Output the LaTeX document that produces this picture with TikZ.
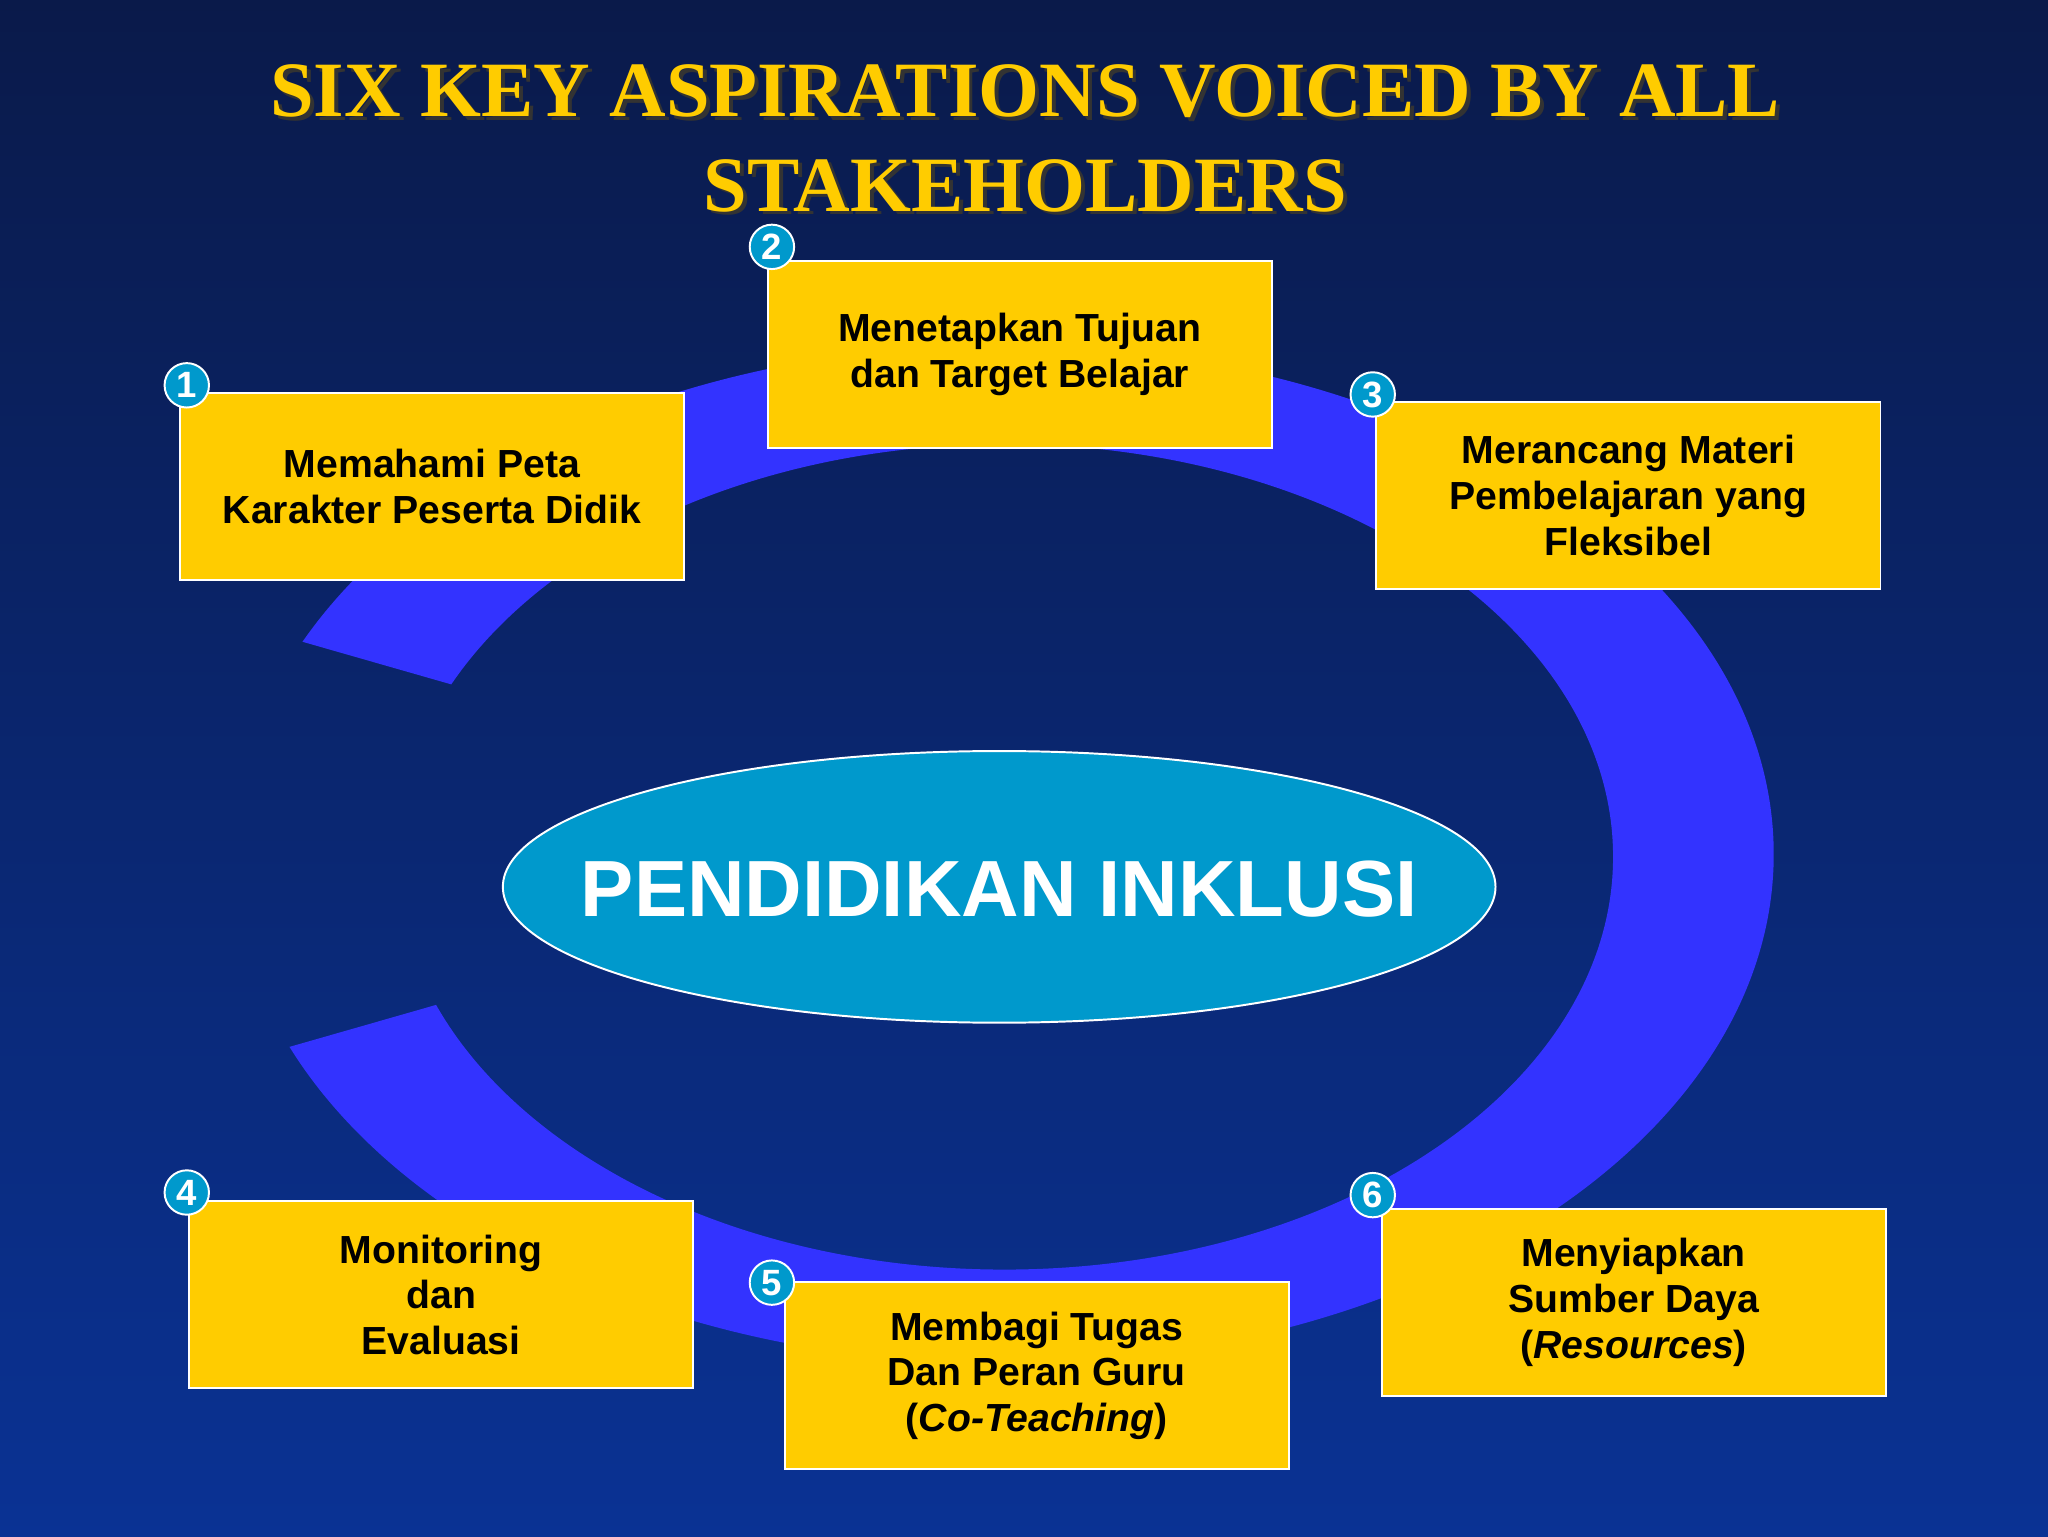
\documentclass[tikz,border=0pt]{standalone}
\usepackage{fontspec}
\setmainfont{Liberation Sans}
\newfontfamily\titlefont{Liberation Serif}
\usetikzlibrary{shapes.geometric}
\definecolor{bgtop}{HTML}{0A1A4A}
\definecolor{bgbot}{HTML}{0A3294}
\definecolor{ringc}{HTML}{3333FF}
\definecolor{boxy}{HTML}{FFCC00}
\definecolor{cyanb}{HTML}{0099CC}
\tikzset{
  stepbox/.style={draw=white,line width=1.5pt,fill=boxy,minimum width=386pt,minimum height=143pt,anchor=north west,font=\fontsize{30}{35}\selectfont\bfseries,align=center,text=black},
  badge/.style={circle,draw=white,line width=1.5pt,fill=cyanb,minimum size=34pt,inner sep=0pt,font=\fontsize{28}{28}\selectfont\bfseries,text=white},
  ttl/.style={font=\titlefont\fontsize{60}{72}\selectfont\bfseries,align=center}
}
\begin{document}
\begin{tikzpicture}[x=1pt,y=-1pt]
\shade[top color=bgtop,bottom color=bgbot] (0,0) rectangle (1568,1176);
\useasboundingbox (0,0) rectangle (1568,1176);
\begin{scope}
\clip (768,645) -- (0,425) -- (0,0) -- (1568,0) -- (1568,1176) -- (0,1176) -- (0,865) -- cycle;
\fill[ringc,even odd rule] (768,654) ellipse [x radius=590, y radius=390] (769,656) ellipse [x radius=466, y radius=316];
\end{scope}
\node[ttl,text=black!80] (tshadow) at (788,109) {SIX KEY ASPIRATIONS VOICED BY ALL\\STAKEHOLDERS};
\node[ttl,text=boxy] (title) at (785,106) {SIX KEY ASPIRATIONS VOICED BY ALL\\STAKEHOLDERS};
\draw[draw=white,line width=1.5pt,fill=cyanb] (765,679) ellipse [x radius=380, y radius=104];
\node[text=white,font=\fontsize{61}{61}\selectfont\bfseries] (center) at (765,681) {PENDIDIKAN INKLUSI};
\node[stepbox] (b1) at (137,300) {Memahami Peta\\Karakter Peserta Didik};
\node[stepbox] (b2) at (587,199) {Menetapkan Tujuan\\dan Target Belajar};
\node[stepbox] (b3) at (1053,307) {Merancang Materi\\Pembelajaran yang\\Fleksibel};
\node[stepbox] (b4) at (144,919) {Monitoring\\dan\\Evaluasi};
\node[stepbox] (b5) at (600,981) {Membagi Tugas\\Dan Peran Guru\\(\textit{Co-Teaching})};
\node[stepbox] (b6) at (1057,925) {Menyiapkan\\Sumber Daya\\(\textit{Resources})};
\node[badge] (n1) at (143,295) {1};
\node[badge] (n2) at (591,189) {2};
\node[badge] (n3) at (1051,302) {3};
\node[badge] (n4) at (143,913) {4};
\node[badge] (n5) at (591,982) {5};
\node[badge] (n6) at (1051,915) {6};
\end{tikzpicture}
\end{document}
